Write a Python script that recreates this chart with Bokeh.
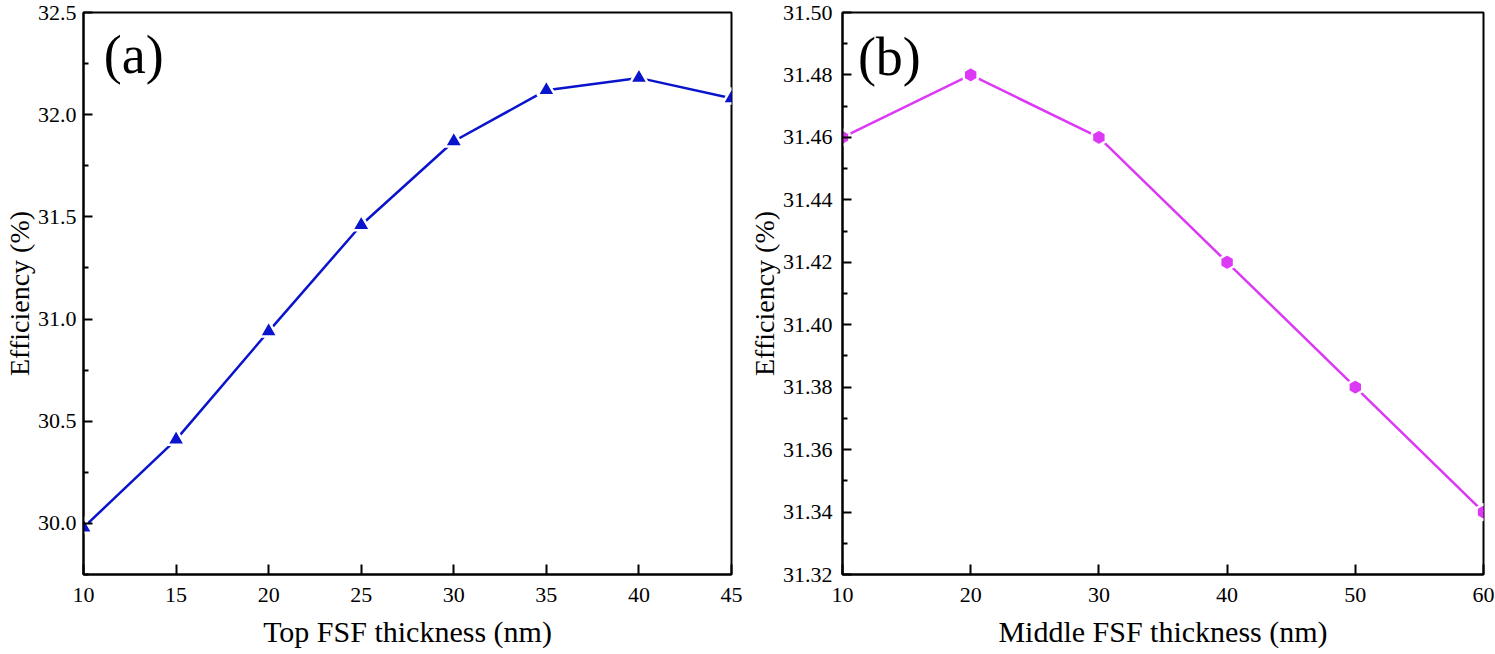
from bokeh.plotting import figure
from bokeh.layouts import row
from bokeh.models import Range1d, FixedTicker, NumeralTickFormatter, Label
from bokeh.embed import file_html
from bokeh.resources import INLINE

# ---- data ----
top_thickness = [10, 15, 20, 25, 30, 35, 40, 45]
top_eff = [29.98, 30.41, 30.94, 31.46, 31.87, 32.12, 32.18, 32.08]
mid_thickness = [10, 20, 30, 40, 50, 60]
mid_eff = [31.46, 31.48, 31.46, 31.42, 31.38, 31.34]

a_xticks = [10, 15, 20, 25, 30, 35, 40, 45]
a_yticks = [30.0, 30.5, 31.0, 31.5, 32.0, 32.5]
a_yminor = [29.75, 30.25, 30.75, 31.25, 31.75, 32.25]
b_xticks = [10, 20, 30, 40, 50, 60]
b_yticks = [31.32, 31.34, 31.36, 31.38, 31.40, 31.42, 31.44, 31.46, 31.48, 31.50]
b_yminor = [31.33, 31.35, 31.37, 31.39, 31.41, 31.43, 31.45, 31.47, 31.49]

FONT = "Liberation Serif"
BLUE = "#0A14CC"
MAGENTA = "#DD38F5"


def style(p, xlabel, ylabel):
    p.outline_line_color = "black"
    p.outline_line_width = 2
    p.xgrid.visible = False
    p.ygrid.visible = False
    for ax in (p.xaxis[0], p.yaxis[0]):
        ax.axis_line_width = 2
        ax.major_tick_line_width = 2
        ax.minor_tick_line_width = 2
        ax.major_tick_out = 0
        ax.minor_tick_out = 0
        ax.major_label_text_font = FONT
        ax.major_label_text_font_size = "22px"
        ax.major_label_text_color = "black"
        ax.axis_label_text_font = FONT
        ax.axis_label_text_font_style = "normal"
        ax.axis_label_text_color = "black"
    p.xaxis.axis_label = xlabel
    p.yaxis.axis_label = ylabel
    p.xaxis.axis_label_text_font_size = "30px"
    p.yaxis.axis_label_text_font_size = "28px"
    p.xaxis.major_tick_in = 10
    p.xaxis.minor_tick_in = 0
    p.yaxis.major_tick_in = 9
    p.yaxis.minor_tick_in = 5
    p.xaxis.major_label_standoff = 13
    p.yaxis.major_label_standoff = 7
    p.xaxis.axis_label_standoff = 10
    p.yaxis.axis_label_standoff = 0


# ---- panel (a) ----
p1 = figure(width=745, height=654, output_backend="svg", toolbar_location=None,
            x_range=Range1d(10, 45), y_range=Range1d(29.75, 32.5),
            min_border_left=81, min_border_right=14, min_border_top=12, min_border_bottom=80)
style(p1, "Top FSF thickness (nm)", "Efficiency (%)")
p1.xaxis.ticker = FixedTicker(ticks=a_xticks)
p1.yaxis.ticker = FixedTicker(ticks=a_yticks, minor_ticks=a_yminor)
p1.yaxis.formatter = NumeralTickFormatter(format="0.0")
p1.line(top_thickness, top_eff, line_color=BLUE, line_width=2.5)
p1.scatter(top_thickness, top_eff, marker="triangle", size=18, fill_color=BLUE,
           line_color="white", line_width=2.5)
p1.add_layout(Label(x=11.1, y=32.44, text="(a)", text_font=FONT, text_font_size="54px",
                    text_baseline="top", text_color="black"))

# ---- panel (b) ----
p2 = figure(width=750, height=654, output_backend="svg", toolbar_location=None,
            x_range=Range1d(10, 60), y_range=Range1d(31.32, 31.50),
            min_border_left=97, min_border_right=12, min_border_top=12, min_border_bottom=80)
style(p2, "Middle FSF thickness (nm)", "Efficiency (%)")
p2.yaxis.major_label_standoff = 10
p2.xaxis.ticker = FixedTicker(ticks=b_xticks)
p2.yaxis.ticker = FixedTicker(ticks=b_yticks, minor_ticks=b_yminor)
p2.yaxis.formatter = NumeralTickFormatter(format="0.00")
p2.line(mid_thickness, mid_eff, line_color=MAGENTA, line_width=2.5)
p2.scatter(mid_thickness, mid_eff, marker="hex", size=16, fill_color=MAGENTA,
           line_color="white", line_width=2.5, angle=0.5236)
p2.add_layout(Label(x=11.2, y=31.4954, text="(b)", text_font=FONT, text_font_size="54px",
                    text_baseline="top", text_color="black"))

layout = row(p1, p2)
open("out.html", "w").write(file_html(layout, INLINE))
